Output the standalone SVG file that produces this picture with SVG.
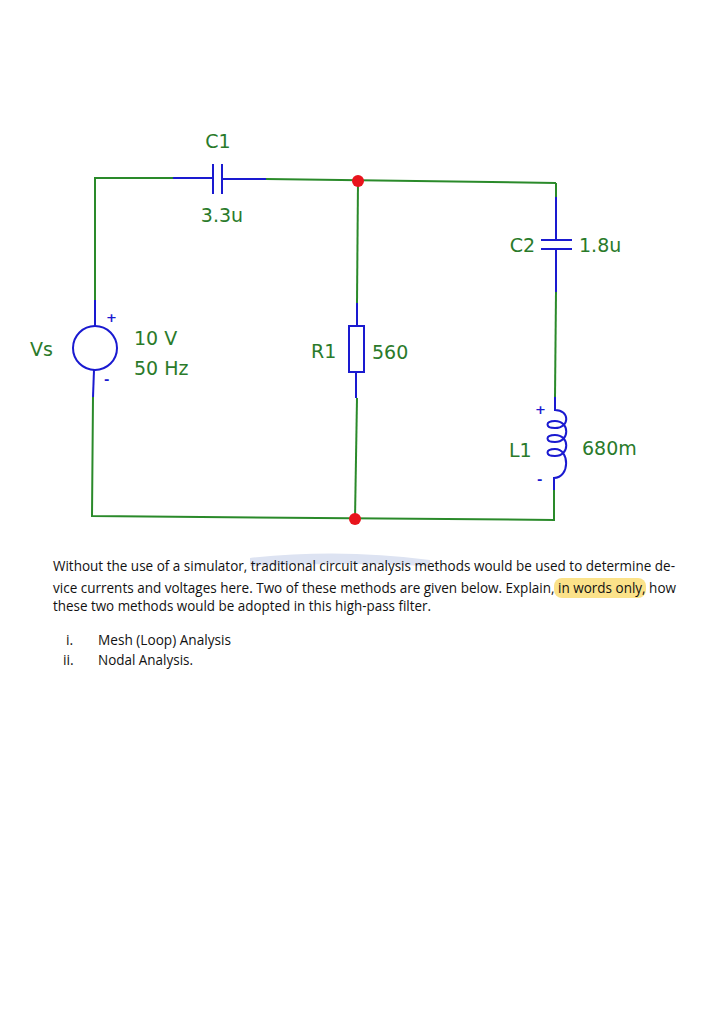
<svg xmlns="http://www.w3.org/2000/svg" width="724" height="1024" viewBox="0 0 724 1024">
<style>
.w{stroke:#2a8a2a;stroke-width:2;fill:none}
.b{stroke:#1a1ad0;stroke-width:2;fill:none}
.l{font-family:"DejaVu Sans",sans-serif;font-size:19px;fill:#2a7a2a}
.p{font-family:"DejaVu Sans",sans-serif;font-size:13px;fill:#1a1ad0;font-weight:bold}
.t{font-family:"Open Sans","Liberation Sans",sans-serif;font-size:14px;fill:#111}
.n{fill:#e8141c}
</style>
<rect width="724" height="1024" fill="#fff"/>
<g id="connectors">
<polyline class="w" points="173,178 95,178 95,300"/>
<line class="w" x1="266" y1="179" x2="556" y2="183"/>
<line class="w" x1="556" y1="183" x2="556" y2="197"/>
<line class="w" x1="358" y1="181" x2="357" y2="303"/>
<line class="w" x1="357" y1="398" x2="355" y2="519"/>
<line class="w" x1="556" y1="292" x2="555" y2="397"/>
<polyline class="w" points="554,490 554,520 92,516 93,397"/>
</g>
<g id="Vs">
<line class="b" x1="95" y1="300" x2="95" y2="326"/>
<circle class="b" cx="95" cy="348" r="22"/>
<line class="b" x1="94" y1="370" x2="93" y2="397"/>
<text class="p" x="106" y="322">+</text>
<text class="p" x="104" y="384">-</text>
<text class="l" x="30" y="356">Vs</text>
<text class="l" x="134" y="345">10 V</text>
<text class="l" x="134" y="375">50 Hz</text>
</g>
<g id="C1">
<line class="b" x1="173" y1="178" x2="213" y2="178"/>
<line class="b" x1="222" y1="179" x2="266" y2="179"/>
<line class="b" x1="213" y1="164" x2="213" y2="194"/>
<line class="b" x1="222" y1="164" x2="222" y2="194"/>
<text class="l" x="218" y="148" text-anchor="middle">C1</text>
<text class="l" x="222" y="222" text-anchor="middle">3.3u</text>
</g>
<g id="R1">
<line class="b" x1="357" y1="303" x2="357" y2="326"/>
<rect class="b" x="349" y="326" width="15" height="46"/>
<line class="b" x1="356" y1="372" x2="356" y2="398"/>
<text class="l" x="311" y="358">R1</text>
<text class="l" x="372" y="359">560</text>
</g>
<g id="C2">
<line class="b" x1="556" y1="197" x2="556" y2="240"/>
<line class="b" x1="556" y1="249" x2="556" y2="292"/>
<line class="b" x1="541" y1="240" x2="572" y2="240"/>
<line class="b" x1="541" y1="249" x2="572" y2="249"/>
<text class="l" x="535" y="252" text-anchor="end">C2</text>
<text class="l" x="579" y="252">1.8u</text>
</g>
<g id="L1">
<path class="b" d="M555,397 V410 C570,410 570,428 555,428 C545,428 545,421 555,421 C570,421 570,442 555,442 C545,442 545,435 555,435 C570,435 570,456 555,456 C545,456 545,449 555,449 C570,449 570,478 554,478 V490"/>
<text class="p" x="535" y="414">+</text>
<text class="p" x="537" y="484">-</text>
<text class="l" x="509" y="457">L1</text>
<text class="l" x="582" y="455">680m</text>
</g>
<g id="nodes">
<circle class="n" cx="358" cy="181" r="6"/>
<circle class="n" cx="355" cy="519" r="6"/>
</g>
<g id="text">
<path d="M250,558 Q340,548 430,560 L430,566 Q340,562 250,566 Z" fill="#dde3f2"/>
<rect x="554" y="578" width="92" height="20" rx="8" fill="#fbe28a"/>
<text class="t" x="53" y="571" textLength="622" lengthAdjust="spacingAndGlyphs">Without the use of a simulator, traditional circuit analysis methods would be used to determine de-</text>
<text class="t" x="53" y="593" textLength="623" lengthAdjust="spacingAndGlyphs">vice currents and voltages here. Two of these methods are given below. Explain, in words only, how</text>
<text class="t" x="53" y="611" textLength="378" lengthAdjust="spacingAndGlyphs">these two methods would be adopted in this high-pass filter.</text>
<text class="t" x="66" y="645">i.</text>
<text class="t" x="98" y="645" textLength="133" lengthAdjust="spacingAndGlyphs">Mesh (Loop) Analysis</text>
<text class="t" x="63" y="665">ii.</text>
<text class="t" x="98" y="665" textLength="95" lengthAdjust="spacingAndGlyphs">Nodal Analysis.</text>
</g>
</svg>
